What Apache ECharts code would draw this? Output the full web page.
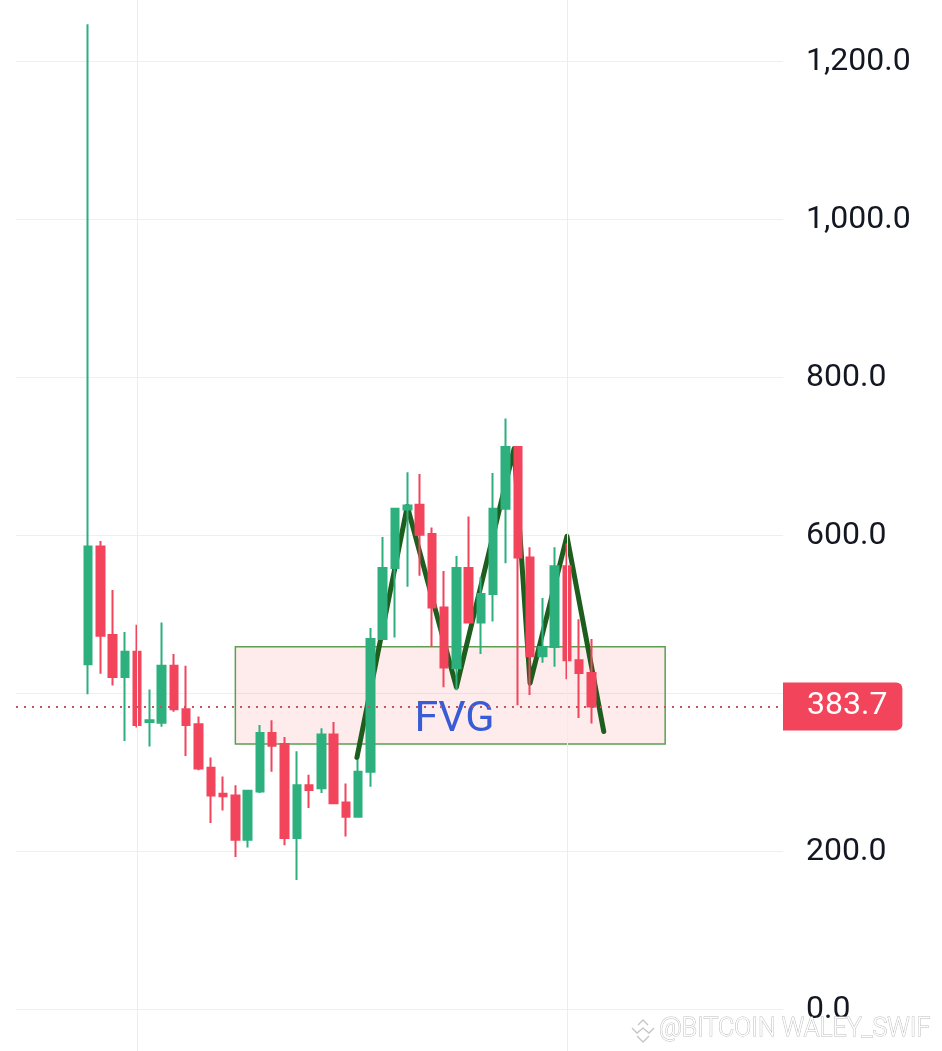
<!DOCTYPE html>
<html>
<head>
<meta charset="utf-8">
<script src="https://cdn.jsdelivr.net/npm/echarts@6/dist/echarts.min.js"></script>
<style>html,body{margin:0;padding:0;background:#fff}#c{width:942px;height:1051px}</style>
</head>
<body>
<div id="c"></div>
<script>
// ---- data ----
const candleIndex = [0,1,2,3,4,5,6,7,8,9,10,11,12,13,14,15,16,17,18,19,20,21,22,23,24,25,26,27,28,29,30,31,32,33,34,35,36,37,38,39,40,41];
const opens  = [437,586,474,421,453,364,363,435,380,361,306,273,271,215,276,350,336,217,284,280,348,262,244,301,469,559,633,639,602,509,432,559,490,526,634,712,572,447,459,561,442,426];
const closes = [586,473,421,453,360,366,435,380,360,305,271,270,215,277,350,334,217,284,278,348,261,244,301,469,559,634,638,601,509,433,559,490,526,634,712,572,447,459,561,442,426,383.7];
const lows   = [399,425,410,340,357,333,358,377,321,303,236,252,193,205,274,301,208,164,255,274,260,219,243,282,468,471,535,549,459,408,404,489,450,491,565,385,398,439,434,418,369,362];
const highs  = [1247,593,531,478,487,405,490,450,435,371,319,295,284,278,360,366,345,327,297,356,364,286,316,483,598,635,680,678,610,555,574,624,547,679,748,713,585,521,585,590,494,469];
const zigX = [21.9,26,30,34.7,36,39,42];
const zigY = [319,637,408,710,413,599,352];
const fvgX = [12,47];
const fvgY = [459.2,336.1];
const fvgText = 'FVG';
const lastPrice = 383.7;
const timeLines = [4,39];
const yTicks = [0,200,400,600,800,1000,1200];

const green = '#2db07e', red = '#f2455c';
const xMin = -5.863, xMax = 56.596;
const yMinB = -52.53, yMaxB = 1277.85;

const chart = echarts.init(document.getElementById('c'), null, {renderer:'canvas'});
const option = {
  animation: false,
  backgroundColor: '#ffffff',
  textStyle: {fontFamily: 'Roboto'},
  grid: [
    {left:16, right:159, top:61.5, bottom:41.5},
    {left:16, right:159, top:0, bottom:0}
  ],
  xAxis: [
    {gridIndex:0, type:'value', min:xMin, max:xMax, show:false},
    {gridIndex:1, type:'value', min:xMin, max:xMax, show:false}
  ],
  yAxis: [
    {gridIndex:0, type:'value', position:'right', min:yTicks[0], max:yTicks[yTicks.length-1], interval:200,
     axisLine:{show:false}, axisTick:{show:false},
     splitLine:{show:true, lineStyle:{color:'#efefef', width:1}},
     axisLabel:{margin:23, fontSize:32, color:'#131722', fontFamily:'Roboto', padding:[4,0,0,0],
       formatter: v => v === 400 ? '' : v.toLocaleString('en-US',{minimumFractionDigits:1, maximumFractionDigits:1})}},
    {gridIndex:1, type:'value', min:yMinB, max:yMaxB, show:false}
  ],
  series: [
    {
      type:'line', xAxisIndex:1, yAxisIndex:1, data:[], silent:true, z:1,
      markLine:{silent:true, symbol:['none','none'], label:{show:false},
        lineStyle:{color:'#ececec', width:1, type:'solid'},
        data: timeLines.map(v => ({xAxis:v}))},
      markArea:{silent:true,
        itemStyle:{color:'rgba(242,54,69,0.1)', borderColor:'#5aa050', borderWidth:1.5},
        label:{show:true, position:['51%','75%'], align:'center', verticalAlign:'middle',
          fontSize:43, color:'#3a5bd6', fontFamily:'Roboto'},
        data:[[{xAxis:fvgX[0], yAxis:fvgY[0], name:fvgText},{xAxis:fvgX[1], yAxis:fvgY[1]}]]}
    },
    {
      type:'line', xAxisIndex:1, yAxisIndex:1, silent:true, z:2, symbol:'none',
      data: zigX.map((x,i) => [x, zigY[i]]),
      lineStyle:{color:'#1d5e1f', width:5, cap:'round', join:'round'}
    },
    {
      type:'candlestick', xAxisIndex:1, yAxisIndex:1, z:3, barWidth:8, clip:false,
      data: candleIndex.map((x,i) => [x, opens[i], closes[i], lows[i], highs[i]]),
      itemStyle:{color:green, color0:red, borderColor:green, borderColor0:red, borderWidth:2},
      markLine:{silent:true, symbol:['none','none'],
        lineStyle:{color:'#c75361', width:2, type:[2,6]},
        label:{show:true, position:'end', distance:0, formatter: () => lastPrice.toFixed(1),
          backgroundColor:red, color:'#ffffff', fontSize:32, fontFamily:'Roboto',
          lineHeight:36, padding:[6,15,6,24], borderRadius:[0,6,6,0]},
        data:[{yAxis:lastPrice}]}
    }
  ],
  graphic: [
    {type:'text', x:659, y:1030, z:100, silent:true,
     style:{text:'@BITCOIN WALEY_SWIF', fill:'#ffffff', stroke:'#bdbdbd', lineWidth:1,
       fontSize:25, fontFamily:'Roboto', fontWeight:300, textVerticalAlign:'middle'}},
    {type:'polyline', z:100, silent:true, shape:{points:[[638,1025],[643,1020],[648,1025]]}, style:{stroke:'#c4c4c4', lineWidth:1.3, fill:null}},
    {type:'polyline', z:100, silent:true, shape:{points:[[632,1028],[637,1033],[643,1028],[649,1033],[654,1028]]}, style:{stroke:'#c4c4c4', lineWidth:1.3, fill:null}},
    {type:'polyline', z:100, silent:true, shape:{points:[[637,1036],[643,1042],[649,1036]]}, style:{stroke:'#c4c4c4', lineWidth:1.3, fill:null}}
  ]
};
chart.setOption(option);
</script>
</body>
</html>
